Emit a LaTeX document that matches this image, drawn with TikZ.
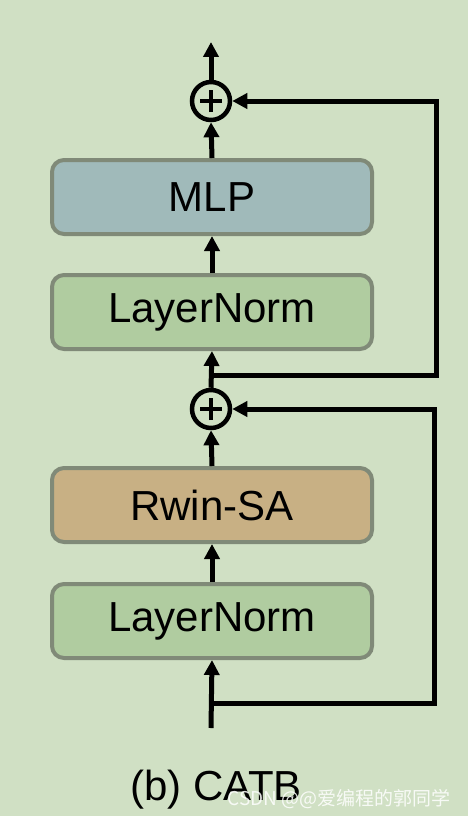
\documentclass[tikz,border=0pt]{standalone}
\usepackage{fontspec}
\setmainfont{Liberation Sans}
\newfontfamily\cjkfont{Noto Sans CJK SC}
\usetikzlibrary{arrows.meta}
\definecolor{bgc}{RGB}{208,224,196}
\definecolor{mlpc}{RGB}{160,186,186}
\definecolor{lnc}{RGB}{176,204,160}
\definecolor{rwc}{RGB}{200,176,132}
\definecolor{bdc}{RGB}{128,138,120}
\tikzset{
  blk/.style={draw=bdc, line width=4pt, rounded corners=12pt, minimum width=320pt, minimum height=74pt, font=\fontsize{42}{46}\selectfont, inner sep=0pt},
  conn/.style={line width=5pt, -{Triangle[length=15pt,width=15pt]}},
  sumc/.style={circle, draw, line width=4.5pt, minimum size=38pt, inner sep=0pt}
}
\begin{document}
\begin{tikzpicture}[x=1pt,y=-1pt]
\fill[bgc] (0,0) rectangle (468,816);
\useasboundingbox (0,0) rectangle (468,816);
\node[blk, fill=mlpc] (mlp) at (212,197) {MLP};
\node[blk, fill=lnc] (ln2) at (212,312) {LayerNorm};
\node[blk, fill=rwc] (rw) at (212,505) {Rwin-SA};
\node[blk, fill=lnc] (ln1) at (212,621) {LayerNorm};
\node[sumc] (p2) at (211,101) {};
\node[sumc] (p1) at (211,409) {};
\foreach \p in {p1,p2}{
  \draw[line width=4.5pt] ([xshift=-11pt]\p.center) -- ([xshift=11pt]\p.center);
  \draw[line width=4.5pt] ([yshift=-11pt]\p.center) -- ([yshift=11pt]\p.center);
}
\coordinate (out) at (211,42);
\coordinate (in) at (211,728);
\coordinate (b1) at (211,703);
\coordinate (b1r) at (434,703);
\coordinate (b1u) at (434,409);
\coordinate (b2) at (211,375);
\coordinate (b2r) at (436,375);
\coordinate (b2u) at (436,101);
% main path
\draw[conn] (in) -- (ln1.south);
\draw[conn] (ln1.north) -- (rw.south);
\draw[conn] (rw.north) -- (p1.south);
\draw[conn] (p1.north) -- (ln2.south);
\draw[conn] (ln2.north) -- (mlp.south);
\draw[conn] (mlp.north) -- (p2.south);
\draw[conn] (p2.north) -- (out);
% skips
\draw[conn] (b1) -- (b1r) -- (b1u) -- (p1.east);
\draw[conn] (b2) -- (b2r) -- (b2u) -- (p2.east);
\node[font=\fontsize{42}{46}\selectfont, anchor=base] (cap) at (216,800) {(b) CATB};
\node[font=\cjkfont\fontsize{19}{22}\selectfont, text=white, opacity=0.85, anchor=base east] (wm) at (454,805) {CSDN @@爱编程的郭同学};
\end{tikzpicture}
\end{document}
